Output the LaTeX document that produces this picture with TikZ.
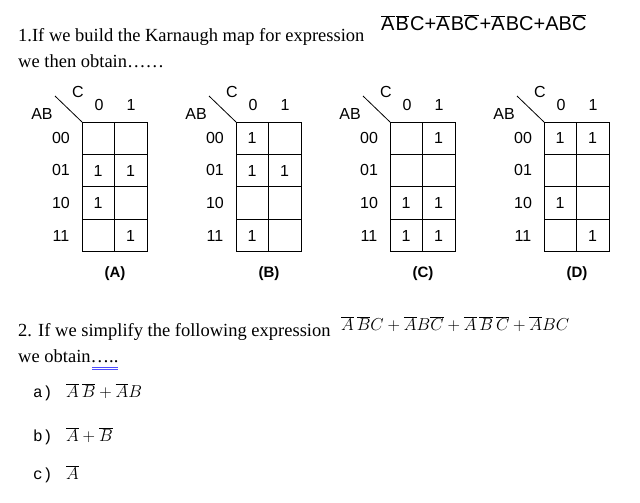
\documentclass[tikz,border=0pt]{standalone}
\usepackage{fontspec}
\setmainfont{Liberation Serif}
\newfontfamily\arial{Liberation Sans}
\newfontfamily\cour{Liberation Mono}
\newcommand{\nb}[1]{\overline{\mbox{#1}}\mkern1mu}
\begin{document}
\begin{tikzpicture}[x=1pt,y=-1pt,
  tx/.style={font=\fontsize{18.5}{20}\selectfont,anchor=base west,inner sep=0},
  lb/.style={font=\arial\fontsize{16}{18}\selectfont,inner sep=0},
  mi/.style={font=\fontsize{18}{20}\selectfont,anchor=base west,inner sep=0},
  mapcap/.style={font=\arial\bfseries\fontsize{15}{17}\selectfont,inner sep=0}]
\useasboundingbox (0,0) rectangle (640,503);
\node[tx] (t1) at (18,42) {1.If we build the Karnaugh map for expression};
\node[tx] (t2) at (18,67) {we then obtain\dots\dots};
\node[font=\arial\fontsize{20}{22}\selectfont,anchor=base west,inner sep=0] (e1) at (381,31)
 {$\nb{A}\nb{B}$C+$\nb{A}$B$\nb{C}$+$\nb{A}$BC+AB$\nb{C}$};
\foreach \ox/\nm/\vals in {82/A/{0,0,1,1,1,0,0,1},236/B/{1,0,1,1,0,0,1,0},390/C/{0,1,0,0,1,1,1,1},544/D/{1,1,0,0,1,0,0,1}}{
  \begin{scope}[shift={(\ox,0)}]
  \draw[thick] (0,122) rectangle (65,251);
  \draw[thick] (32.5,122) -- (32.5,251);
  \foreach \y in {154,186,219} \draw[thick] (0,\y) -- (65,\y);
  \draw[thick] (-27,96) -- (0,122);
  \node[lb] (c\nm) at (-4,92) {C};
  \node[lb] (z\nm) at (17,105) {0};
  \node[lb] (o\nm) at (49,105) {1};
  \node[lb] (ab\nm) at (-40,114) {AB};
  \node[lb] (r0\nm) at (-21,138) {00};
  \node[lb] (r1\nm) at (-21,170) {01};
  \node[lb] (r2\nm) at (-21,203) {10};
  \node[lb] (r3\nm) at (-21,236) {11};
  \foreach \v [count=\i from 0] in \vals {
    \pgfmathtruncatemacro\row{int(\i/2)}
    \pgfmathtruncatemacro\col{mod(\i,2)}
    \ifnum\v=1 \node[lb] at (16+32.5*\col,138+32.5*\row) {1};\fi
  }
  \node[mapcap] (k\nm) at (33,274) {(\nm)};
  \end{scope}}
\node[tx] (t3) at (18,336) {2. If we simplify the following expression};
\node[mi] (e2) at (341,330) {$\overline{A}\,\overline{B}C+\overline{A}B\overline{C}+\overline{A}\,\overline{B}\,\overline{C}+\overline{A}BC$};
\node[tx] (t4) at (18,362) {we obtain\dots..};
\draw[blue!70,thin] (92,367) -- (118,367) (92,369) -- (118,369);
\node[font=\cour\fontsize{16}{18}\selectfont,anchor=base west,inner sep=0] (a) at (33,397) {a)};
\node[mi] (aa) at (66,397) {$\overline{A}\,\overline{B}+\overline{A}B$};
\node[font=\cour\fontsize{16}{18}\selectfont,anchor=base west,inner sep=0] (b) at (33,441) {b)};
\node[mi] (bb) at (66,441) {$\overline{A}+\overline{B}$};
\node[font=\cour\fontsize{16}{18}\selectfont,anchor=base west,inner sep=0] (c) at (33,479) {c)};
\node[mi] (cc) at (66,479) {$\overline{A}$};
\end{tikzpicture}
\end{document}
